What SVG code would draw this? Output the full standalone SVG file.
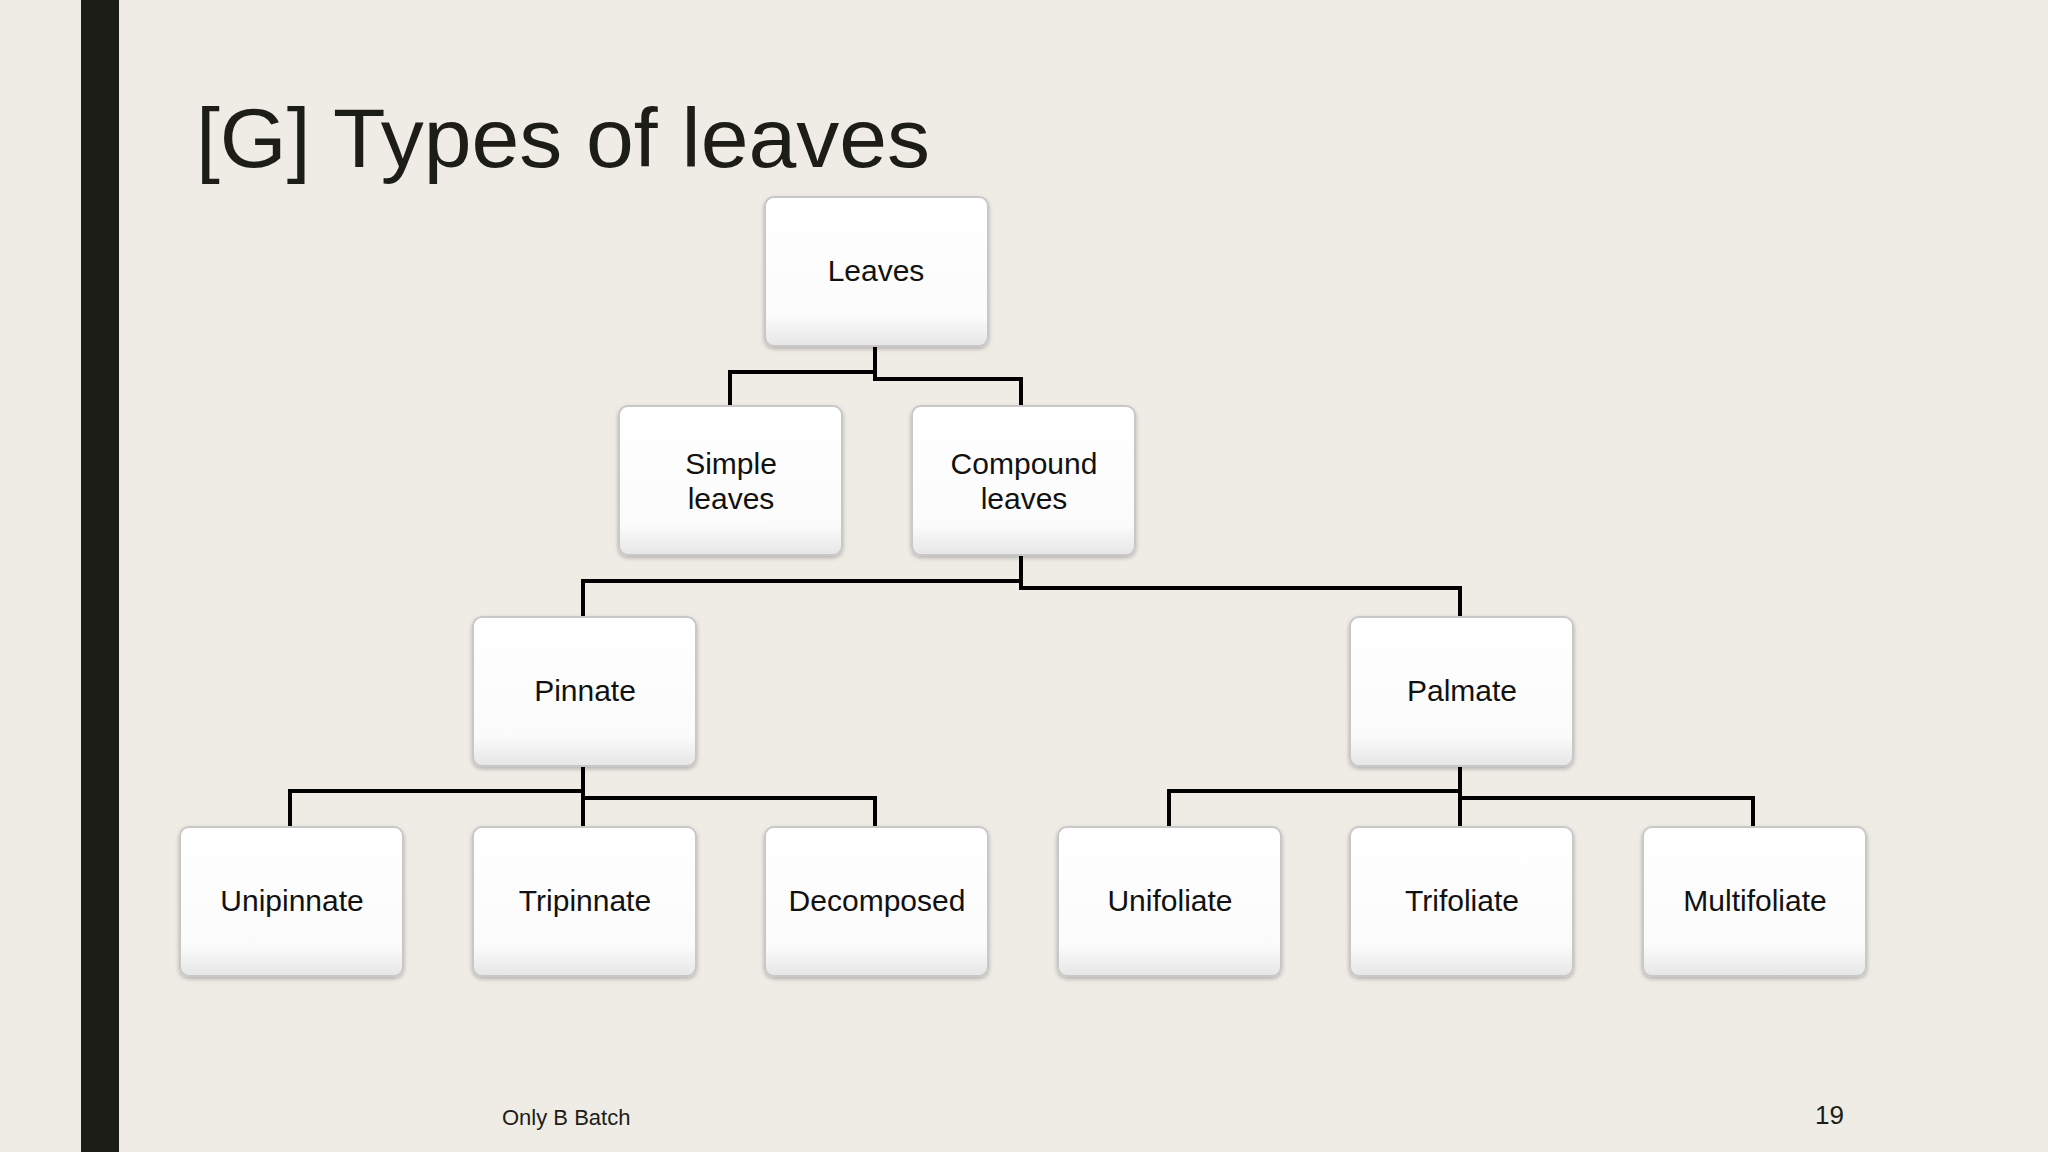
<svg xmlns="http://www.w3.org/2000/svg" width="2048" height="1152" viewBox="0 0 2048 1152">
<defs>
<linearGradient id="g" x1="0" y1="0" x2="0" y2="1"><stop offset="0" stop-color="#ffffff"/><stop offset="0.8" stop-color="#fbfbfb"/><stop offset="1" stop-color="#e6e6e6"/></linearGradient>
<filter id="sh" x="-10%" y="-10%" width="120%" height="130%"><feDropShadow dx="0" dy="2" stdDeviation="2" flood-color="#000" flood-opacity="0.25"/></filter>
</defs>
<style>
.b{fill:url(#g);stroke:#c8c8c8;stroke-width:2;filter:url(#sh)}
.t{font-family:"Liberation Sans",Arial,sans-serif;font-size:30px;fill:#111;text-anchor:middle}
.c{fill:none;stroke:#000;stroke-width:4}
</style>
<rect width="2048" height="1152" fill="#efece6"/>
<rect x="81" y="0" width="38" height="1152" fill="#1c1d17"/>
<text x="196" y="167" font-family="Liberation Sans,Arial,sans-serif" font-size="84" fill="#1c1d17" textLength="734" lengthAdjust="spacingAndGlyphs">[G] Types of leaves</text>
<g id="connectors">
<path class="c" d="M875 346V372H730V406M875 346V379H1021V406"/>
<path class="c" d="M1021 555V581H583V616M1021 555V588H1460V616"/>
<path class="c" d="M583 765V791H290V827M583 765V827M583 765V798H875V827"/>
<path class="c" d="M1460 765V791H1169V827M1460 765V827M1460 765V798H1753V827"/>
</g>
<g id="leaves"><rect class="b" x="765" y="197" width="223" height="149" rx="9"/><text class="t" x="876" y="281">Leaves</text></g>
<g id="simple"><rect class="b" x="619" y="406" width="223" height="149" rx="9"/><text class="t" x="731" y="474">Simple</text><text class="t" x="731" y="509">leaves</text></g>
<g id="compound"><rect class="b" x="912" y="406" width="223" height="149" rx="9"/><text class="t" x="1024" y="474">Compound</text><text class="t" x="1024" y="509">leaves</text></g>
<g id="pinnate"><rect class="b" x="473" y="617" width="223" height="149" rx="9"/><text class="t" x="585" y="701">Pinnate</text></g>
<g id="palmate"><rect class="b" x="1350" y="617" width="223" height="149" rx="9"/><text class="t" x="1462" y="701">Palmate</text></g>
<g id="unipinnate"><rect class="b" x="180" y="827" width="223" height="149" rx="9"/><text class="t" x="292" y="911">Unipinnate</text></g>
<g id="tripinnate"><rect class="b" x="473" y="827" width="223" height="149" rx="9"/><text class="t" x="585" y="911">Tripinnate</text></g>
<g id="decomposed"><rect class="b" x="765" y="827" width="223" height="149" rx="9"/><text class="t" x="877" y="911">Decomposed</text></g>
<g id="unifoliate"><rect class="b" x="1058" y="827" width="223" height="149" rx="9"/><text class="t" x="1170" y="911">Unifoliate</text></g>
<g id="trifoliate"><rect class="b" x="1350" y="827" width="223" height="149" rx="9"/><text class="t" x="1462" y="911">Trifoliate</text></g>
<g id="multifoliate"><rect class="b" x="1643" y="827" width="223" height="149" rx="9"/><text class="t" x="1755" y="911">Multifoliate</text></g>
<text x="502" y="1125" font-family="Liberation Sans,Arial,sans-serif" font-size="22" fill="#1c1d17">Only B Batch</text>
<text x="1815" y="1124" font-family="Liberation Sans,Arial,sans-serif" font-size="26" fill="#1c1d17">19</text>
</svg>
